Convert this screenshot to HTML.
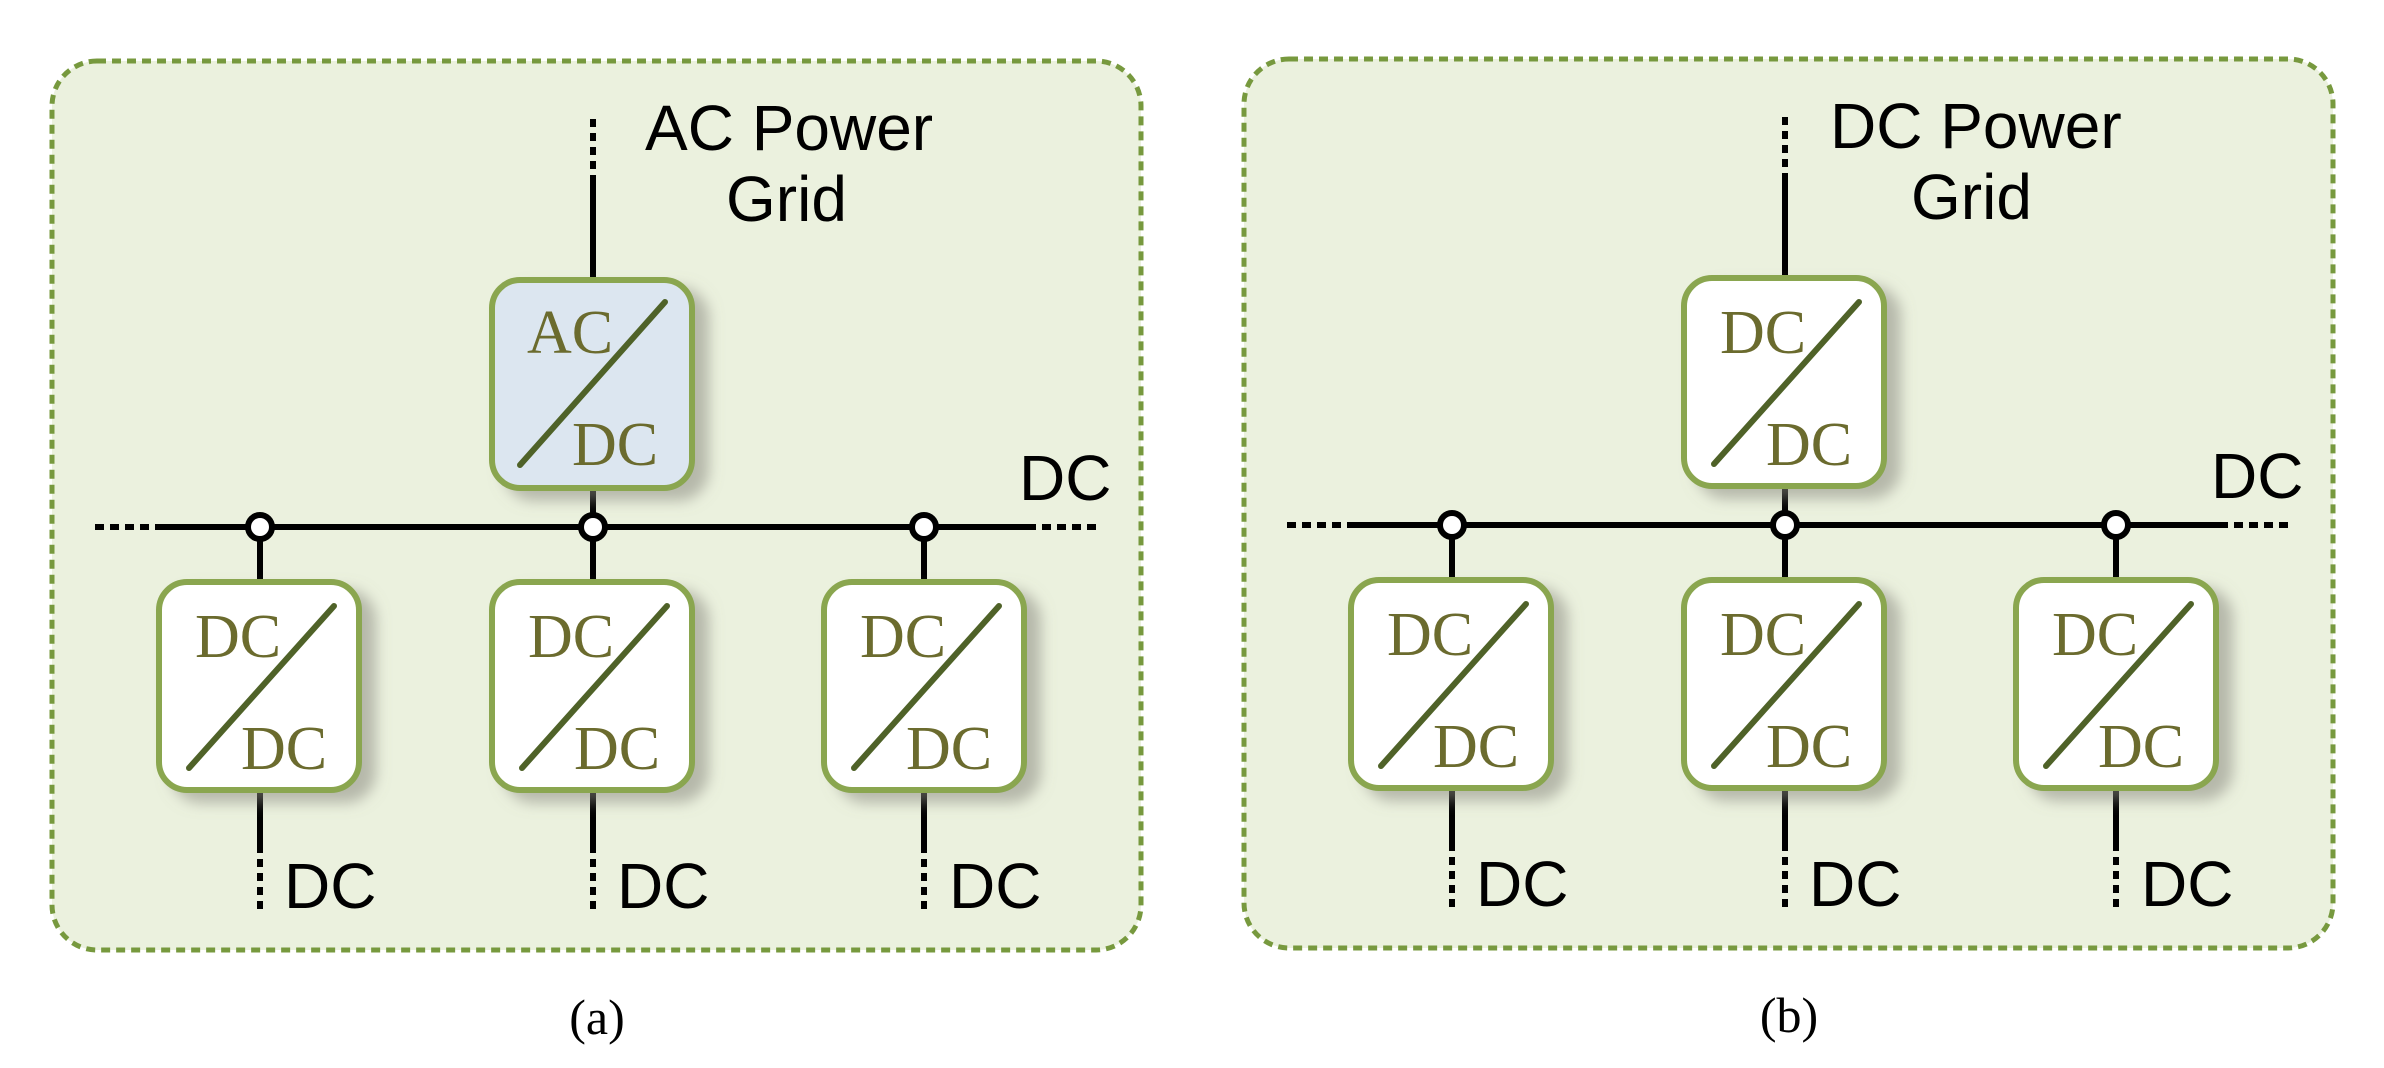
<!DOCTYPE html>
<html><head><meta charset="utf-8"><style>html,body{margin:0;padding:0;background:#fff}svg{display:block}</style></head>
<body>
<svg width="2384" height="1068" viewBox="0 0 2384 1068" xmlns="http://www.w3.org/2000/svg">
<defs>
<filter id="sh" x="-20%" y="-20%" width="150%" height="150%">
<feGaussianBlur in="SourceAlpha" stdDeviation="7"/>
<feOffset dx="14" dy="10" result="b"/>
<feFlood flood-color="#8a8a80" flood-opacity="0.55"/>
<feComposite in2="b" operator="in"/>
<feMerge><feMergeNode/><feMergeNode in="SourceGraphic"/></feMerge>
</filter>
<g id="panel">
<rect x="52" y="61" width="1089" height="889" rx="45" fill="#ebf1de" stroke="#77993e" stroke-width="5" stroke-dasharray="9 6"/>
<line x1="593" y1="119" x2="593" y2="180" stroke="#000" stroke-width="6" stroke-dasharray="8 6"/>
<line x1="593" y1="180" x2="593" y2="280" stroke="#000" stroke-width="6"/>
<line x1="95" y1="527" x2="158" y2="527" stroke="#000" stroke-width="6" stroke-dasharray="9 6"/>
<line x1="158" y1="527" x2="1027" y2="527" stroke="#000" stroke-width="6"/>
<line x1="1027" y1="527" x2="1096" y2="527" stroke="#000" stroke-width="6" stroke-dasharray="9 6"/>
<line x1="593" y1="490" x2="593" y2="582" stroke="#000" stroke-width="6"/>
<line x1="260" y1="527" x2="260" y2="582" stroke="#000" stroke-width="6"/>
<line x1="924" y1="527" x2="924" y2="582" stroke="#000" stroke-width="6"/>
<g stroke="#000" stroke-width="6">
<line x1="260" y1="788" x2="260" y2="845"/><line x1="593" y1="788" x2="593" y2="845"/><line x1="924" y1="788" x2="924" y2="845"/>
</g>
<g stroke="#000" stroke-width="6" stroke-dasharray="8 6">
<line x1="260" y1="845" x2="260" y2="910"/><line x1="593" y1="845" x2="593" y2="910"/><line x1="924" y1="845" x2="924" y2="910"/>
</g>
<g fill="#fff" stroke="#000" stroke-width="6">
<circle cx="260" cy="527" r="12"/><circle cx="593" cy="527" r="12"/><circle cx="924" cy="527" r="12"/>
</g>
<g font-family="Liberation Sans, sans-serif" font-size="64" fill="#000">
<text x="1019" y="500">DC</text>
<text x="284" y="908">DC</text>
<text x="617" y="908">DC</text>
<text x="949" y="908">DC</text>
</g>
</g>
<g id="conv">
<rect x="0" y="0" width="200" height="208" rx="28" fill="#fff" stroke="#8aa650" stroke-width="6" filter="url(#sh)"/>
<line x1="175" y1="24" x2="30" y2="186" stroke="#4f6228" stroke-width="6" stroke-linecap="round"/>
<text x="36" y="75" font-family="Liberation Serif, serif" font-size="62" fill="#6b6b2e">DC</text>
<text x="82" y="187" font-family="Liberation Serif, serif" font-size="62" fill="#6b6b2e">DC</text>
</g>
</defs>

<use href="#panel"/>
<g font-family="Liberation Sans, sans-serif" font-size="64" fill="#000">
<text x="645" y="150">AC Power</text>
<text x="726" y="221">Grid</text>
</g>
<g transform="translate(492,280)">
<rect x="0" y="0" width="200" height="208" rx="28" fill="#dce6f0" stroke="#8aa650" stroke-width="6" filter="url(#sh)"/>
<line x1="173" y1="22" x2="28" y2="185" stroke="#4f6228" stroke-width="6" stroke-linecap="round"/>
<text x="35" y="73" font-family="Liberation Serif, serif" font-size="62" fill="#6b6b2e">AC</text>
<text x="80" y="185" font-family="Liberation Serif, serif" font-size="62" fill="#6b6b2e">DC</text>
</g>
<use href="#conv" x="159" y="582"/>
<use href="#conv" x="492" y="582"/>
<use href="#conv" x="824" y="582"/>
<text x="597" y="1034" text-anchor="middle" font-family="Liberation Serif, serif" font-size="50" fill="#000">(a)</text>

<g transform="translate(1192,-2)">
<use href="#panel"/>
<g font-family="Liberation Sans, sans-serif" font-size="64" fill="#000">
<text x="638" y="150">DC Power</text>
<text x="719" y="221">Grid</text>
</g>
<use href="#conv" x="492" y="280"/>
<use href="#conv" x="159" y="582"/>
<use href="#conv" x="492" y="582"/>
<use href="#conv" x="824" y="582"/>
<text x="597" y="1034" text-anchor="middle" font-family="Liberation Serif, serif" font-size="50" fill="#000">(b)</text>
</g>
</svg>
</body></html>
